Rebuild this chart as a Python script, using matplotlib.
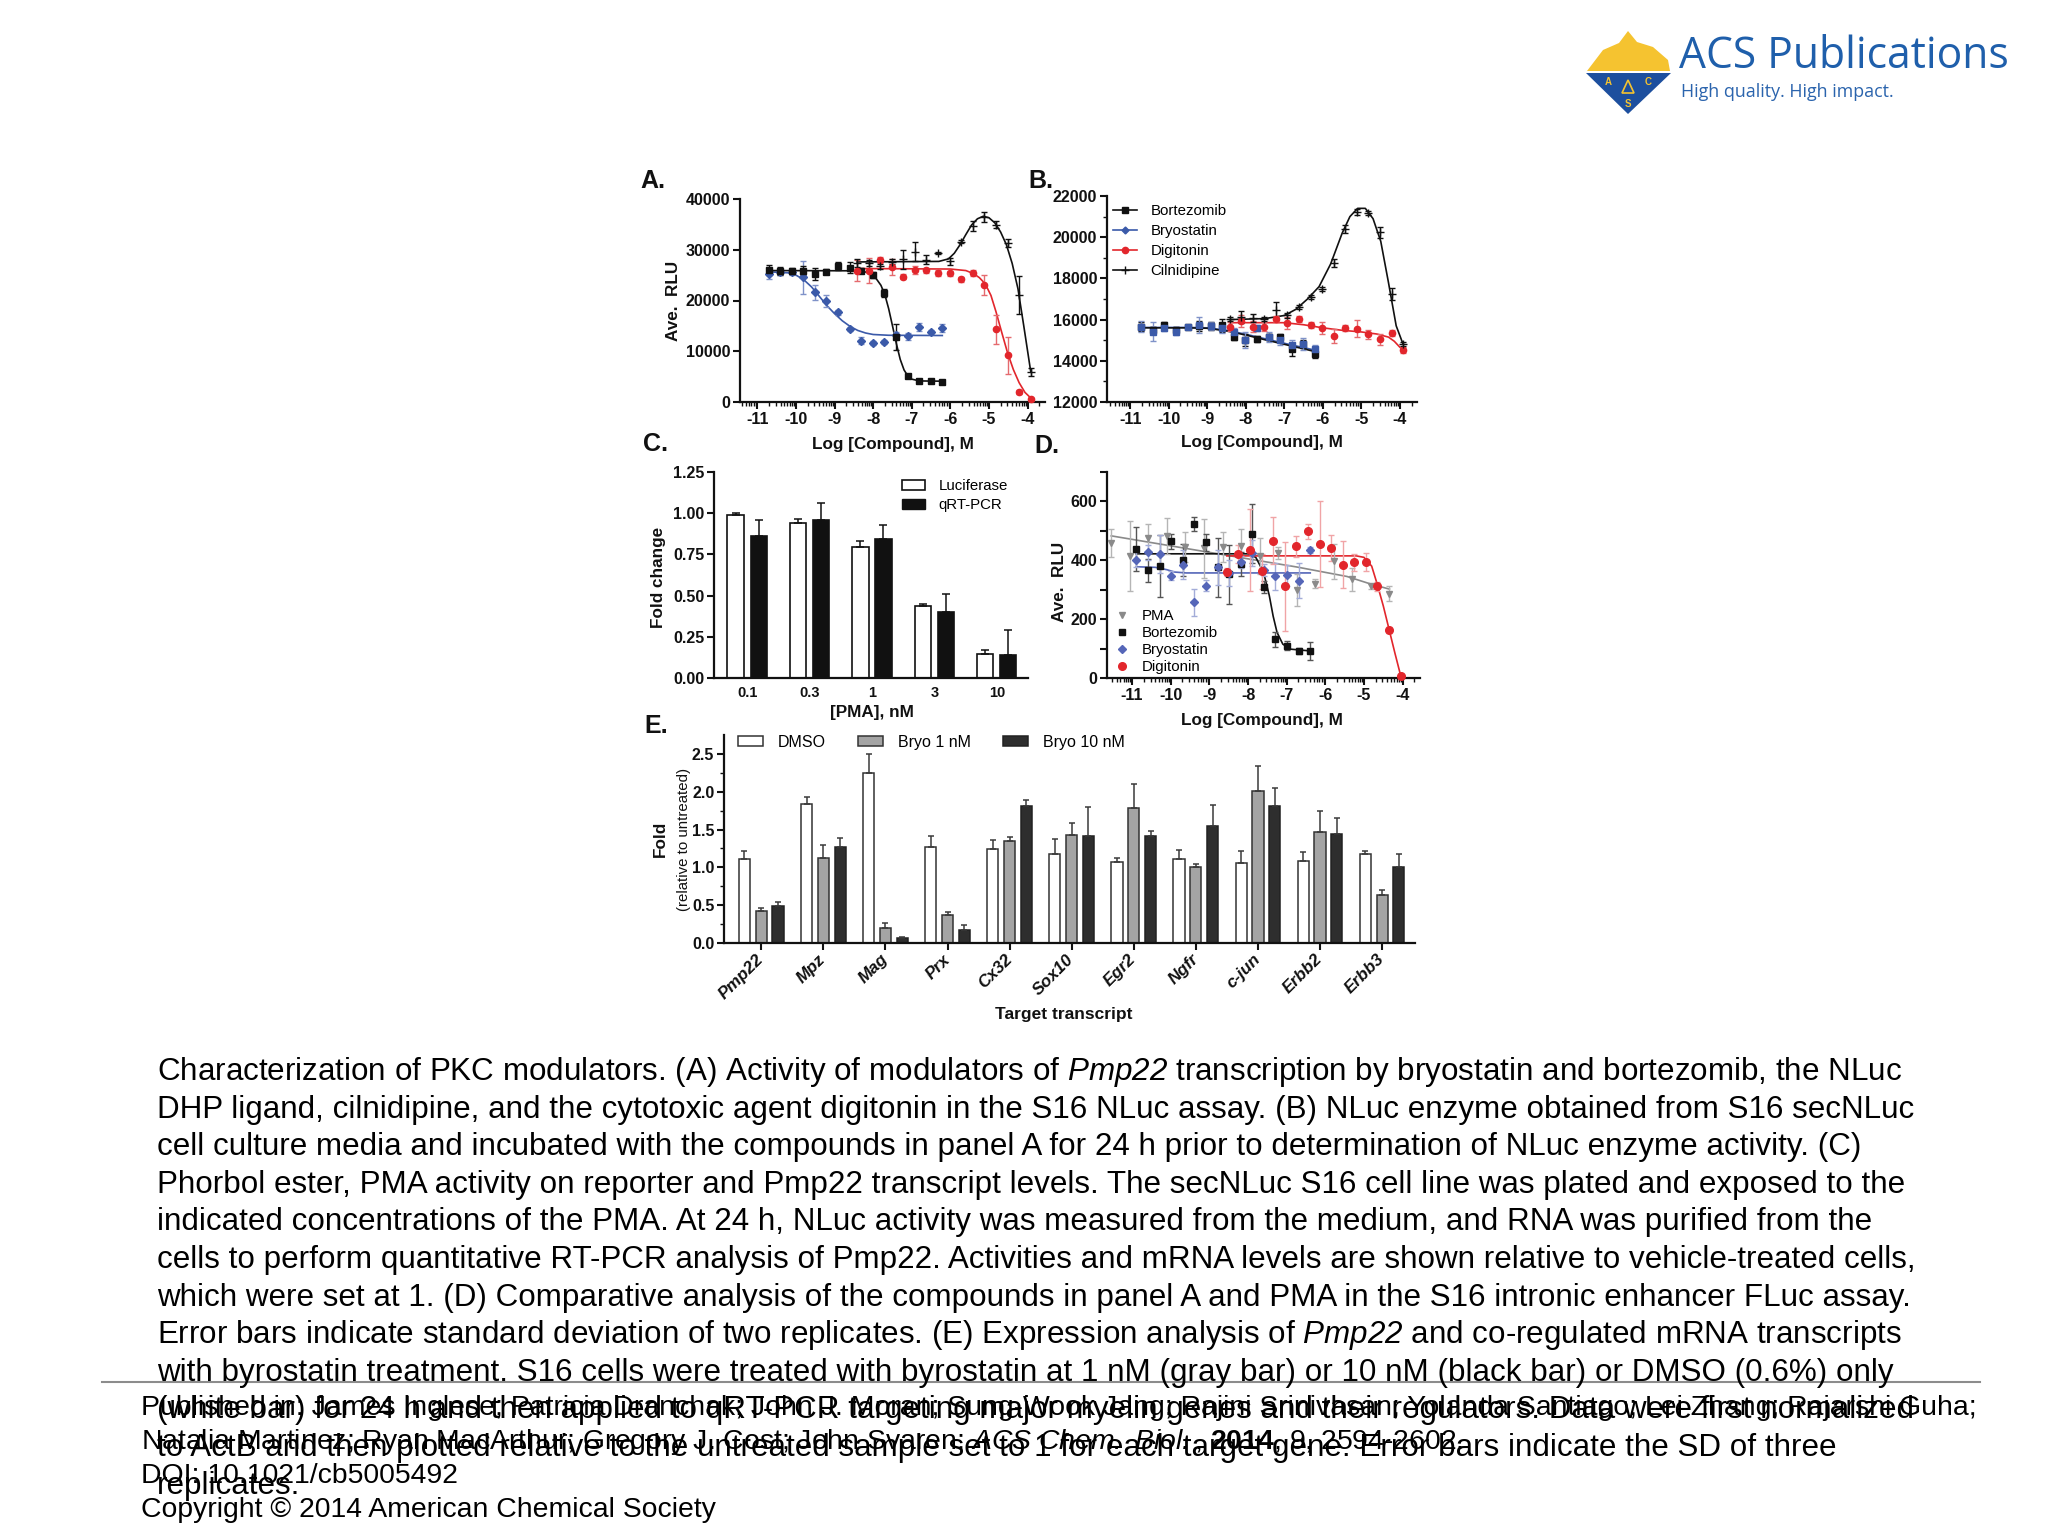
import numpy as np
import matplotlib
matplotlib.use("Agg")
import matplotlib.pyplot as plt
from matplotlib.lines import Line2D
from matplotlib.patches import Patch, Polygon

plt.rcParams["font.family"] = ["Liberation Sans", "DejaVu Sans"]
plt.rcParams["axes.unicode_minus"] = False
plt.rcParams["mathtext.fontset"] = "custom"
plt.rcParams["mathtext.rm"] = "Liberation Sans"
plt.rcParams["mathtext.it"] = "Liberation Sans:italic"
plt.rcParams["mathtext.sf"] = "Liberation Sans:italic"  # italic digits too
plt.rcParams["mathtext.bf"] = "Liberation Sans:bold"

# ---------------- data ----------------
log_ticks = [-11, -10, -9, -8, -7, -6, -5, -4]

# panel A: S16 NLuc assay (Ave. RLU vs log [compound])
a_x_lo = [-10.71, -10.41, -10.11, -9.81, -9.51, -9.21, -8.91, -8.61,
          -8.31, -8.01, -7.71, -7.41, -7.11, -6.81, -6.51, -6.21]
a_x_hi = [-8.42, -8.12, -7.82, -7.52, -7.22, -6.92, -6.62, -6.32,
          -6.02, -5.72, -5.42, -5.12, -4.82, -4.52, -4.22, -3.92]
a_bort = [26000, 25800, 25800, 25900, 25300, 25700, 26800, 26500,
          25900, 25100, 21500, 12800, 5200, 4200, 4100, 3900]
a_bort_err = [1000, 800, 600, 900, 1200, 500, 700, 1000, 500, 600, 800, 2500, 400, 300, 300, 300]
a_bryo = [25200, 25650, 25600, 24550, 21600, 19960, 17700, 14460,
          12040, 11650, 11850, 13150, 12960, 14730, 13740, 14530]
a_bryo_err = [1000, 700, 600, 3200, 1500, 1200, 500, 400, 700, 400, 400, 600, 700, 800, 400, 800]
a_digi = [25900, 25900, 27900, 26600, 24700, 26000, 26000, 25400,
          25400, 24200, 25500, 23100, 14300, 9200, 2000, 500]
a_digi_err = [2000, 2500, 600, 1500, 500, 800, 500, 600, 500, 500, 600, 2000, 2800, 3700, 400, 300]
a_ciln = [27400, 27350, 26700, 27600, 28100, 29650, 28000, 29300,
          27700, 31600, 34700, 36400, 34900, 31300, 21100, 5900]
a_ciln_err = [800, 600, 500, 500, 1800, 1800, 900, 200, 700, 300, 1000, 1000, 700, 800, 3700, 800]
a_bort_fit_x = [-10.71, -8.4, -8.1, -7.95, -7.8, -7.7, -7.6, -7.5, -7.4, -7.3, -7.2, -7.1, -7.0, -6.8, -6.21]
a_bort_fit_y = [25900, 25850, 25500, 24600, 23000, 21200, 18400, 15000, 11500, 8400, 6300, 5100, 4500, 4150, 4100]
a_bryo_fit_x = [-10.71, -10.2, -10.0, -9.8, -9.6, -9.5, -9.35, -9.2, -9.0, -8.8, -8.6, -8.4, -8.2, -8.0, -7.6, -6.21]
a_bryo_fit_y = [25650, 25450, 25000, 24100, 22700, 21800, 20400, 19000, 17400, 16000, 14900, 14100, 13600, 13300, 13150, 13100]
a_digi_fit_x = [-8.42, -6.0, -5.6, -5.4, -5.25, -5.1, -4.95, -4.82, -4.67, -4.52, -4.37, -4.22, -4.07, -3.92]
a_digi_fit_y = [26300, 26200, 25900, 25300, 24500, 23300, 21000, 17800, 13700, 9700, 6400, 3800, 1900, 800]
a_ciln_fit_x = [-8.42, -6.3, -6.05, -5.9, -5.75, -5.6, -5.45, -5.3, -5.15, -5.0, -4.85, -4.7, -4.55, -4.4, -4.25, -4.1, -3.92]
a_ciln_fit_y = [27600, 27700, 28200, 29300, 31000, 33000, 34900, 36100, 36600, 36300, 35300, 33500, 31000, 27300, 22300, 15000, 6000]
a_yticks = [0, 10000, 20000, 30000, 40000]

# panel B: secNLuc enzyme in media
b_bort = [15660, 15500, 15720, 15500, 15640, 15700, 15700, 15720,
          15170, 15000, 15050, 15150, 15160, 14550, 14800, 14330]
b_bort_err = [200, 150, 150, 150, 100, 250, 200, 300, 150, 300, 150, 150, 150, 300, 200, 200]
b_bryo = [15660, 15410, 15600, 15400, 15620, 15740, 15700, 15580,
          15400, 15000, 15600, 15140, 14990, 14750, 14830, 14550]
b_bryo_err = [250, 450, 150, 150, 100, 400, 200, 250, 200, 400, 150, 250, 200, 250, 300, 200]
b_digi = [15660, 15930, 15660, 15660, 16010, 15820, 16010, 15720,
          15580, 15200, 15610, 15560, 15280, 15040, 15330, 14520]
b_digi_err = [200, 300, 250, 200, 150, 300, 150, 150, 300, 350, 150, 400, 200, 250, 150, 150]
b_ciln = [16010, 16130, 16090, 16050, 16470, 16200, 16630, 17110,
          17500, 18760, 20380, 21220, 21190, 20230, 17230, 14800]
b_ciln_err = [100, 300, 200, 100, 400, 100, 100, 100, 100, 200, 200, 150, 100, 250, 300, 100]
b_bort_fit_x = [-10.71, -9.5, -9.0, -8.5, -8.0, -7.5, -7.0, -6.5, -6.21]
b_bort_fit_y = [15600, 15600, 15580, 15450, 15250, 15020, 14800, 14580, 14450]
b_bryo_fit_x = [-10.71, -9.5, -9.0, -8.5, -8.0, -7.5, -7.0, -6.5, -6.21]
b_bryo_fit_y = [15620, 15620, 15600, 15480, 15290, 15070, 14850, 14640, 14520]
b_digi_fit_x = [-8.42, -7.0, -6.5, -6.0, -5.5, -5.0, -4.6, -4.3, -4.15, -4.0, -3.92]
b_digi_fit_y = [15850, 15850, 15750, 15600, 15480, 15400, 15300, 15150, 14950, 14650, 14550]
b_ciln_fit_x = [-8.42, -7.5, -7.0, -6.7, -6.4, -6.1, -5.8, -5.5, -5.3, -5.1, -4.9, -4.7, -4.5, -4.3, -4.1, -3.92]
b_ciln_fit_y = [16000, 16050, 16200, 16500, 17000, 17600, 18700, 20200, 21000, 21400, 21400, 20900, 19800, 17800, 15700, 14800]
b_yticks = [12000, 14000, 16000, 18000, 20000, 22000]

# panel C: PMA, luciferase vs qRT-PCR
c_doses = ["0.1", "0.3", "1", "3", "10"]
c_luc = [0.988, 0.938, 0.796, 0.438, 0.145]
c_luc_err = [0.014, 0.028, 0.033, 0.014, 0.026]
c_pcr = [0.861, 0.958, 0.841, 0.399, 0.141]
c_pcr_err = [0.097, 0.104, 0.09, 0.109, 0.151]
c_yticks = [0.0, 0.25, 0.5, 0.75, 1.0, 1.25]

# panel D: S16 intronic enhancer FLuc assay
d_x_pma = [-11.54, -11.06, -10.58, -10.1, -9.62, -9.14, -8.66, -8.18,
           -7.7, -7.22, -6.74, -6.26, -5.78, -5.3, -4.82, -4.34]
d_pma = [458, 415, 475, 483, 445, 441, 445, 447, 415, 424, 300, 320, 396, 335, 311, 286]
d_pma_err = [47, 120, 50, 60, 50, 100, 50, 60, 60, 20, 55, 15, 60, 40, 10, 25]
d_x_lo = [-10.89, -10.59, -10.29, -9.99, -9.69, -9.39, -9.09, -8.79,
          -8.49, -8.19, -7.89, -7.59, -7.29, -6.99, -6.69, -6.39]
d_bort = [439, 366, 380, 464, 400, 523, 461, 376, 353, 388, 491, 309, 132, 110, 91, 91]
d_bort_err = [75, 40, 105, 25, 55, 25, 30, 100, 100, 40, 100, 20, 25, 15, 10, 30]
d_bryo = [402, 427, 422, 348, 385, 257, 314, 376, 357, 393, 425, 368, 345, 349, 331, 434]
d_bryo_err = [25, 25, 65, 15, 50, 45, 20, 60, 45, 20, 45, 20, 45, 35, 60, 10]
d_x_digi = [-8.55, -8.25, -7.95, -7.65, -7.35, -7.05, -6.75, -6.45,
            -6.15, -5.85, -5.55, -5.25, -4.95, -4.65, -4.35, -4.05]
d_digi = [360, 421, 434, 362, 466, 311, 447, 498, 455, 441, 385, 393, 394, 311, 164, 6]
d_digi_err = [15, 30, 140, 60, 80, 150, 35, 25, 145, 45, 80, 30, 30, 15, 10, 5]
d_pma_fit_x = [-11.54, -10.18, -8.46, -6.73, -5.44, -4.84, -4.34]
d_pma_fit_y = [483, 453, 415, 377, 345, 320, 302]
d_bort_fit_x = [-10.89, -8.0, -7.8, -7.6, -7.45, -7.35, -7.25, -7.1, -6.9, -6.39]
d_bort_fit_y = [422, 422, 410, 360, 280, 210, 155, 115, 98, 92]
d_bryo_fit_x = [-10.89, -10.4, -10.1, -9.9, -9.6, -6.39]
d_bryo_fit_y = [378, 376, 368, 360, 357, 357]
d_digi_fit_x = [-8.55, -5.2, -5.0, -4.8, -4.66, -4.5, -4.35, -4.2, -4.05]
d_digi_fit_y = [415, 415, 410, 380, 320, 245, 165, 85, 8]
d_yticks = [0, 200, 400, 600]

# panel E: qRT-PCR of myelin genes
e_genes = ["Pmp22", "Mpz", "Mag", "Prx", "Cx32", "Sox10", "Egr2", "Ngfr", "c-jun", "Erbb2", "Erbb3"]
e_dmso = [1.115, 1.836, 2.25, 1.27, 1.243, 1.18, 1.07, 1.115, 1.058, 1.084, 1.18]
e_dmso_err = [0.095, 0.10, 0.25, 0.146, 0.124, 0.19, 0.06, 0.115, 0.152, 0.116, 0.04]
e_bryo1 = [0.42, 1.128, 0.195, 0.367, 1.35, 1.43, 1.79, 1.01, 2.013, 1.465, 0.637]
e_bryo1_err = [0.045, 0.162, 0.075, 0.049, 0.057, 0.16, 0.31, 0.04, 0.327, 0.285, 0.058]
e_bryo10 = [0.495, 1.274, 0.066, 0.177, 1.805, 1.416, 1.416, 1.544, 1.814, 1.442, 1.0]
e_bryo10_err = [0.045, 0.116, 0.014, 0.066, 0.085, 0.384, 0.062, 0.286, 0.236, 0.213, 0.18]
e_yticks = [0.0, 0.5, 1.0, 1.5, 2.0, 2.5]

caption_lines = [
    "Characterization of PKC modulators. (A) Activity of modulators of $\\mathsf{Pmp22}$ transcription by bryostatin and bortezomib, the NLuc",
    "DHP ligand, cilnidipine, and the cytotoxic agent digitonin in the S16 NLuc assay. (B) NLuc enzyme obtained from S16 secNLuc",
    "cell culture media and incubated with the compounds in panel A for 24 h prior to determination of NLuc enzyme activity. (C)",
    "Phorbol ester, PMA activity on reporter and Pmp22 transcript levels. The secNLuc S16 cell line was plated and exposed to the",
    "indicated concentrations of the PMA. At 24 h, NLuc activity was measured from the medium, and RNA was purified from the",
    "cells to perform quantitative RT-PCR analysis of Pmp22. Activities and mRNA levels are shown relative to vehicle-treated cells,",
    "which were set at 1. (D) Comparative analysis of the compounds in panel A and PMA in the S16 intronic enhancer FLuc assay.",
    "Error bars indicate standard deviation of two replicates. (E) Expression analysis of $\\mathsf{Pmp22}$ and co-regulated mRNA transcripts",
    "with byrostatin treatment. S16 cells were treated with byrostatin at 1 nM (gray bar) or 10 nM (black bar) or DMSO (0.6%) only",
    "(white bar) for 24 h and then applied to qRT-PCR targeting major myelin genes and their regulators. Data were first normalized",
    "to ActB and then plotted relative to the untreated sample set to 1 for each target gene. Error bars indicate the SD of three",
    "replicates.",
]
footer_lines = [
    "Published in: James Inglese; Patricia Dranchak; John J. Moran; Sung-Wook Jang; Rajini Srinivasan; Yolanda Santiago; Lei Zhang; Rajarshi Guha;",
    "Natalia Martinez; Ryan MacArthur; Gregory J. Cost; John Svaren; $\\mathsf{ACS\\ Chem.\\ Biol.}$, $\\mathbf{2014}$, 9, 2594-2602.",
    "DOI: 10.1021/cb5005492",
    "Copyright \u00a9 2014 American Chemical Society",
]

# ---------------- figure ----------------
W, H = 2048, 1536
BLACK = "#111111"
BLUE = "#3b5aa9"
RED = "#e2262c"
GREY = "#8a8a8a"
TICK_FS = 11.5

fig = plt.figure(figsize=(W / 100, H / 100), dpi=100, facecolor="white")
canvas = fig.add_axes([0, 0, 1, 1])
canvas.set_xlim(0, W)
canvas.set_ylim(H, 0)
canvas.axis("off")


def panel(x0, y0, x1, y1):
    """axes placed by pixel box (top-left origin)"""
    ax = fig.add_axes([x0 / W, 1 - y1 / H, (x1 - x0) / W, (y1 - y0) / H])
    ax.patch.set_alpha(0)
    for s in ("top", "right"):
        ax.spines[s].set_visible(False)
    for s in ("left", "bottom"):
        ax.spines[s].set_linewidth(1.6)
        ax.spines[s].set_color(BLACK)
    ax.tick_params(which="major", direction="out", length=5, width=1.5,
                   labelsize=TICK_FS, pad=2, colors=BLACK)
    ax.tick_params(which="minor", direction="out", length=3, width=1.0, colors=BLACK)
    return ax


def bold_ticks(ax):
    plt.setp(ax.get_xticklabels() + ax.get_yticklabels(), fontweight="bold")


def log_axis(ax, lo, hi):
    ax.set_xlim(lo, hi)
    ax.set_xticks(log_ticks, [str(t) for t in log_ticks])
    minor = [d + np.log10(k) for d in range(-12, -3) for k in range(2, 10)]
    ax.set_xticks([m for m in minor if lo < m < hi], minor=True)


def points(ax, x, y, err, fmt, color, ecolor=None, ms=4.5, mew=1.0):
    ax.errorbar(x, y, yerr=err, fmt=fmt, ms=ms, mew=mew, color=color, mec=color,
                ecolor=ecolor or color, elinewidth=1.0, capsize=2.5, capthick=1.0,
                zorder=3, clip_on=False)


def label(x, y, s, size=12.3, weight="bold", rot=0, **kw):
    canvas.text(x, y, s, fontsize=size, fontweight=weight, rotation=rot,
                ha="center", va="center", color=BLACK, **kw)


# ---- A ----
ax = panel(740, 199, 1045, 402)
log_axis(ax, -11.45, -3.55)
ax.set_ylim(0, 40000)
ax.set_yticks(a_yticks, [str(v) for v in a_yticks])
ax.plot(a_bryo_fit_x, a_bryo_fit_y, color=BLUE, lw=1.2)
ax.plot(a_bort_fit_x, a_bort_fit_y, color=BLACK, lw=1.2)
ax.plot(a_digi_fit_x, a_digi_fit_y, color=RED, lw=1.2)
ax.plot(a_ciln_fit_x, a_ciln_fit_y, color=BLACK, lw=1.2)
points(ax, a_x_lo, a_bryo, a_bryo_err, "D", BLUE, "#7f92c8", ms=4)
points(ax, a_x_lo, a_bort, a_bort_err, "s", BLACK)
points(ax, a_x_hi, a_digi, a_digi_err, "o", RED, "#e56a6e")
points(ax, a_x_hi, a_ciln, a_ciln_err, "+", BLACK, ms=6)
bold_ticks(ax)
label(653, 181, "A.", size=18)
label(673, 301, "Ave.  RLU", rot=90)
label(893, 444, "Log [Compound], M")

# ---- B ----
ax = panel(1107, 196, 1417, 402)
log_axis(ax, -11.6, -3.56)
ax.set_ylim(12000, 22000)
ax.set_yticks(b_yticks, [str(v) for v in b_yticks])
ax.set_yticks(np.arange(13000, 22000, 2000), minor=True)
ax.plot(b_digi_fit_x, b_digi_fit_y, color=RED, lw=1.2)
ax.plot(b_ciln_fit_x, b_ciln_fit_y, color=BLACK, lw=1.2)
ax.plot(b_bryo_fit_x, b_bryo_fit_y, color=BLUE, lw=1.2)
ax.plot(b_bort_fit_x, b_bort_fit_y, color=BLACK, lw=1.2)
points(ax, a_x_lo, b_bort, b_bort_err, "s", BLACK)
points(ax, a_x_lo, b_bryo, b_bryo_err, "s", BLUE, "#7f92c8")
points(ax, a_x_hi, b_digi, b_digi_err, "o", RED, "#e56a6e")
points(ax, a_x_hi, b_ciln, b_ciln_err, "+", BLACK, ms=6)
bold_ticks(ax)
ax.legend([Line2D([], [], color=BLACK, marker="s", ms=4, lw=1.2),
           Line2D([], [], color=BLUE, marker="D", ms=3.5, lw=1.2),
           Line2D([], [], color=RED, marker="o", ms=4.5, lw=1.2),
           Line2D([], [], color=BLACK, marker="+", ms=6, lw=1.2)],
          ["Bortezomib", "Bryostatin", "Digitonin", "Cilnidipine"],
          loc="upper left", bbox_to_anchor=(0.02, 0.96), frameon=False,
          fontsize=10.8, handlelength=1.6, handletextpad=0.9,
          labelspacing=0.4, borderpad=0, borderaxespad=0)
label(1041, 181, "B.", size=18)
label(1262, 442, "Log [Compound], M")

# ---- C ----
ax = panel(714, 472, 1028, 678)
xc = np.arange(len(c_doses))
ekw = dict(ecolor=BLACK, elinewidth=1.1, capsize=3, capthick=1.1)
ax.bar(xc - 0.185, c_luc, 0.26, color="white", edgecolor=BLACK, lw=1.2,
       yerr=[np.zeros(len(c_luc)), c_luc_err], error_kw=ekw)
ax.bar(xc + 0.185, c_pcr, 0.26, color=BLACK, edgecolor=BLACK, lw=1.2,
       yerr=[np.zeros(len(c_pcr)), c_pcr_err], error_kw=ekw)
ax.set_xlim(-0.53, 4.5)
ax.set_ylim(0, 1.25)
ax.set_xticks(xc, c_doses)
ax.set_yticks(c_yticks, [f"{v:.2f}" for v in c_yticks])
ax.tick_params(axis="x", length=0, labelsize=10.5, pad=6)
bold_ticks(ax)
ax.legend([Patch(facecolor="white", edgecolor=BLACK, lw=1.2),
           Patch(facecolor=BLACK, edgecolor=BLACK)],
          ["Luciferase", "qRT-PCR"], loc="upper left", bbox_to_anchor=(0.6, 0.965),
          frameon=False, fontsize=10.8, handlelength=1.5, handleheight=0.6,
          handletextpad=0.9, labelspacing=0.35, borderpad=0, borderaxespad=0)
label(656, 444, "C.", size=18)
label(658, 577, "Fold change", rot=90)
label(872, 712, "[PMA], nM")

# ---- D ----
ax = panel(1107, 472, 1420, 678)
log_axis(ax, -11.65, -3.55)
ax.set_ylim(0, 700)
ax.set_yticks(d_yticks, [str(v) for v in d_yticks])
ax.set_yticks([100, 300, 500, 700], minor=True)
ax.tick_params(axis="y", which="minor", length=5, width=1.5)
ax.plot(d_pma_fit_x, d_pma_fit_y, color=GREY, lw=1.2)
ax.plot(d_bryo_fit_x, d_bryo_fit_y, color="#5566b8", lw=1.2)
ax.plot(d_bort_fit_x, d_bort_fit_y, color=BLACK, lw=1.2)
ax.plot(d_digi_fit_x, d_digi_fit_y, color=RED, lw=1.2)
points(ax, d_x_pma, d_pma, d_pma_err, "v", GREY, "#b5b5b5", ms=4.5)
points(ax, d_x_lo, d_bort, d_bort_err, "s", BLACK, "#555555", ms=5)
points(ax, d_x_lo, d_bryo, d_bryo_err, "D", "#5566b8", "#a3acd8", ms=4.5)
points(ax, d_x_digi, d_digi, d_digi_err, "o", RED, "#f0a4a6", ms=5.5)
bold_ticks(ax)
ax.legend([Line2D([], [], ls="", color=GREY, marker="v", ms=5),
           Line2D([], [], ls="", color=BLACK, marker="s", ms=5),
           Line2D([], [], ls="", color="#5566b8", marker="D", ms=4.5),
           Line2D([], [], ls="", color=RED, marker="o", ms=5.5)],
          ["PMA", "Bortezomib", "Bryostatin", "Digitonin"],
          loc="lower left", bbox_to_anchor=(0.025, 0.02), frameon=False,
          fontsize=10.8, handlelength=1.0, handletextpad=0.8,
          labelspacing=0.2, borderpad=0, borderaxespad=0)
label(1047, 446, "D.", size=18)
label(1059, 582, "Ave.  RLU", rot=90)
label(1262, 720, "Log [Compound], M")

# ---- E ----
ax = panel(724, 735, 1415, 943)
xe = np.arange(len(e_genes))
ekw = dict(ecolor="#3a3a3a", elinewidth=1.1, capsize=2.5, capthick=1.1)
bw = 0.18
ax.bar(xe - 0.27, e_dmso, bw, color="white", edgecolor="#333333", lw=1.1,
       yerr=[np.zeros(len(xe)), e_dmso_err], error_kw=ekw)
ax.bar(xe, e_bryo1, bw, color="#a4a4a4", edgecolor="#333333", lw=1.1,
       yerr=[np.zeros(len(xe)), e_bryo1_err], error_kw=ekw)
ax.bar(xe + 0.27, e_bryo10, bw, color="#2e2e2e", edgecolor="#222222", lw=1.1,
       yerr=[np.zeros(len(xe)), e_bryo10_err], error_kw=ekw)
ax.set_xlim(-0.6, 10.53)
ax.set_ylim(0, 2.75)
ax.set_xticks(xe, e_genes)
ax.set_yticks(e_yticks, [f"{v:.1f}" for v in e_yticks])
ax.set_yticks(np.arange(0.25, 2.75, 0.5), minor=True)
ax.tick_params(axis="x", pad=5)
bold_ticks(ax)
plt.setp(ax.get_xticklabels(), rotation=45, ha="right", va="center",
         rotation_mode="anchor", fontstyle="italic", fontsize=12.3)
ax.legend([Patch(facecolor="white", edgecolor="#333333", lw=1.1),
           Patch(facecolor="#a4a4a4", edgecolor="#333333", lw=1.1),
           Patch(facecolor="#2e2e2e", edgecolor="#222222", lw=1.1)],
          ["DMSO", "Bryo 1 nM", "Bryo 10 nM"], ncol=3, loc="upper left",
          bbox_to_anchor=(0.02, 1.0), frameon=False, fontsize=11.5,
          handlelength=1.6, handleheight=0.6, handletextpad=0.9,
          columnspacing=2.0, borderpad=0, borderaxespad=0)
label(656, 726, "E.", size=18)
label(660, 839, "Fold", rot=90)
label(684, 839, "(relative to untreated)", size=10.8, weight="normal", rot=90)
label(1064, 1014, "Target transcript", size=12.5)

# ---- caption / footer ----
for i, line in enumerate(caption_lines):
    canvas.text(157, 1072 + i * 37.6, line, fontsize=22.6, ha="left", va="center", color="black")
canvas.plot([102, 1980], [1382, 1382], color="#8c8c8c", lw=1.5)
for i, line in enumerate(footer_lines):
    canvas.text(141, 1408 + i * 34, line, fontsize=20.4, ha="left", va="center", color="black")

# ---- ACS logo ----
canvas.add_patch(Polygon([(1587, 71), (1603, 50), (1619, 43), (1628, 31), (1637, 42),
                          (1653, 47), (1668, 60), (1670, 71)],
                         closed=True, facecolor="#f5c330", edgecolor="none"))
canvas.add_patch(Polygon([(1586, 73), (1671, 73), (1628, 114)],
                         closed=True, facecolor="#1d4f9e", edgecolor="none"))
for ch, (lx, ly) in zip("ACS", [(1608, 82), (1648, 82), (1628, 104)]):
    canvas.text(lx, ly, ch, fontsize=7, fontweight="bold", color="#f5c330",
                ha="center", va="center")
canvas.add_patch(Polygon([(1622, 93), (1634, 93), (1628, 80)], closed=True,
                         facecolor="none", edgecolor="#f5c330", lw=1.2))
canvas.text(1679, 57, "ACS Publications", fontsize=30.7, color="#1f5fab",
            ha="left", va="center", family=["Open Sans", "DejaVu Sans"])
canvas.text(1681, 92, "High quality. High impact.", fontsize=12.9, color="#2b64ad",
            ha="left", va="center", family=["Open Sans", "DejaVu Sans"])

fig.savefig("out.png", dpi=100, facecolor="white")
